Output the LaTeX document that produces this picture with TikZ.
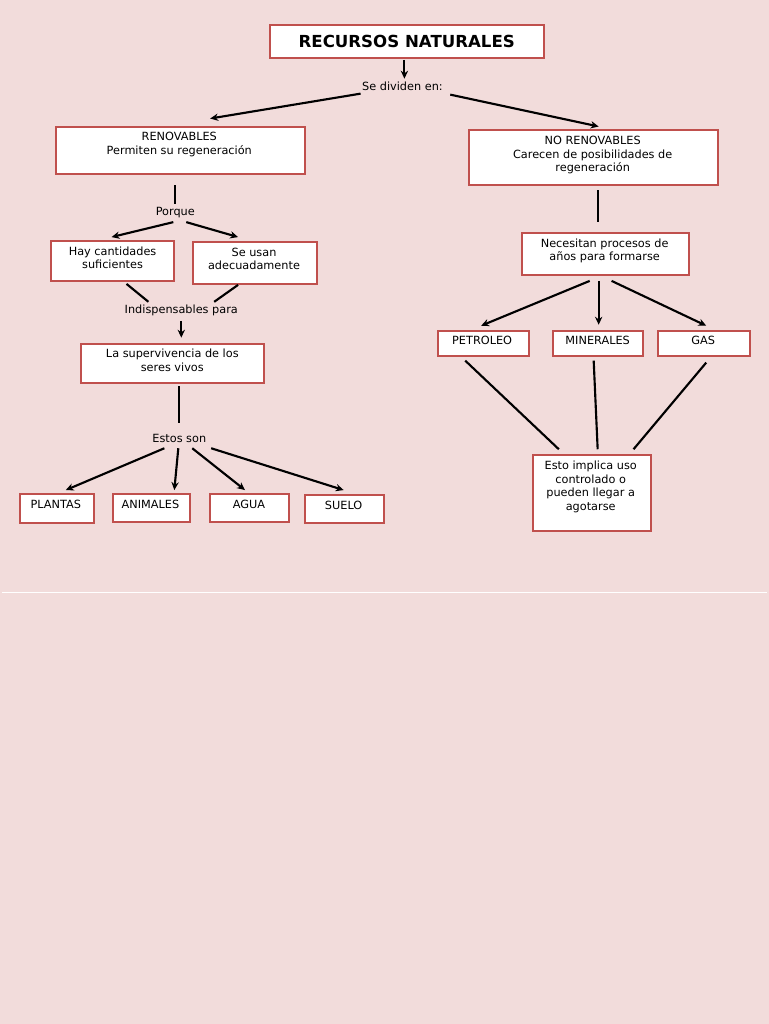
\documentclass[tikz,border=0pt]{standalone}
\usepackage{fontspec}
\setmainfont{DejaVu Sans}
\usetikzlibrary{arrows.meta}
\definecolor{bg}{HTML}{F2DCDB}
\definecolor{bord}{HTML}{C0504D}
\begin{document}
\begin{tikzpicture}[x=0.75pt,y=-0.75pt,
  box/.style={draw=bord,line width=1.5pt,fill=white,inner sep=0pt,font=\fontsize{8.5}{10}\selectfont,align=center,anchor=north west},
  lbl/.style={font=\fontsize{8.5}{10.3}\selectfont,inner sep=1pt},
  ar/.style={line width=1.6pt,-{Stealth[length=6pt,width=5.5pt]}},
  ln/.style={line width=1.6pt}]
\fill[bg] (-2,-2) rectangle (770,1026);
\draw[white,line width=0.8pt] (0,593) -- (768,593);
\useasboundingbox (0,0) rectangle (768,1024);
% boxes
\node[box,minimum width=206pt,minimum height=24.75pt,font=\bfseries\fontsize{12.5}{14}\selectfont] (title) at (268,22) {RECURSOS NATURALES};
\node[box,minimum width=187.5pt,minimum height=36pt] (ren) at (53,124) {};
\node[lbl,align=center,anchor=north] at (178,129) {RENOVABLES\\Permiten su regeneración};
\node[box,minimum width=187.5pt,minimum height=41.25pt] (noren) at (468,128) {};
\node[lbl,align=center,anchor=north] at (593,133) {NO RENOVABLES\\Carecen de posibilidades de\\regeneración};
\node[box,minimum width=93pt,minimum height=30pt] (hay) at (48,239) {};
\node[lbl,align=center,anchor=north] at (111,244) {Hay cantidades\\suficientes};
\node[box,minimum width=93pt,minimum height=31.5pt] (usan) at (191,240) {};
\node[lbl,align=center,anchor=north] at (253,245) {Se usan\\adecuadamente};
\node[box,minimum width=138pt,minimum height=29.25pt] (sup) at (78,342) {};
\node[lbl,align=center,anchor=north] at (171,347) {La supervivencia de los\\seres vivos};
\node[box,minimum width=56pt,minimum height=21.75pt] (plantas) at (17,493) {};
\node[lbl,anchor=north] at (54,498) {PLANTAS};
\node[box,minimum width=58.5pt,minimum height=21pt] (anim) at (110,493) {};
\node[lbl,anchor=north] at (149,498) {ANIMALES};
\node[box,minimum width=59.25pt,minimum height=21pt] (agua) at (208,493) {};
\node[lbl,anchor=north] at (248,498) {AGUA};
\node[box,minimum width=59.25pt,minimum height=21pt] (suelo) at (303,494) {};
\node[lbl,anchor=north] at (343,499) {SUELO};
\node[box,minimum width=126pt,minimum height=31.5pt] (nec) at (521,231) {};
\node[lbl,align=center,anchor=north] at (605,236) {Necesitan procesos de\\años para formarse};
\node[box,minimum width=68.25pt,minimum height=18.75pt] (pet) at (437,329) {};
\node[lbl,anchor=north] at (482,334) {PETROLEO};
\node[box,minimum width=68.25pt,minimum height=18.75pt] (min) at (552,329) {};
\node[lbl,anchor=north] at (598,334) {MINERALES};
\node[box,minimum width=69pt,minimum height=18.75pt] (gas) at (658,329) {};
\node[lbl,anchor=north] at (704,334) {GAS};
\node[box,minimum width=89.25pt,minimum height=57pt] (esto) at (532,454) {};
\node[lbl,align=center,anchor=north] at (591,459) {Esto implica uso\\controlado o\\pueden llegar a\\agotarse};
% labels
\node[lbl] (div) at (402,85) {Se dividen en:};
\node[lbl] (porque) at (174,211) {Porque};
\node[lbl] (indis) at (180,310) {Indispensables para};
\node[lbl] (estos) at (178,438) {Estos son};
% coordinates
\foreach \n/\x/\y in {a1/404/58,a2/404/77,b1/360/92,b2/209/117,c1/450/93,c2/599/125,
 d1/174/184,d2/174/203,e1/172/221,e2/110/236,f1/185/221,f2/237/236,
 g1/125/283,g2/147/301,h1/237/284,h2/213/301,i1/180/320,i2/180/337,j1/178/386,j2/178/423,
 k1/163/448,k2/64/490,l1/177/448,l2/173/490,m1/191/448,m2/244/490,n1/210/448,n2/343/490,
 o1/598/189,o2/598/221,p1/590/280,p2/481/325,q1/599/280,q2/599/324,r1/612/280,r2/707/325,
 s1/465/360,s2/559/449,t1/594/360,t2/598/449,u1/707/362,u2/634/449}
 {\coordinate (\n) at (\x,\y);}
\foreach \s/\t in {a1/a2,b1/b2,c1/c2,e1/e2,f1/f2,i1/i2,k1/k2,l1/l2,m1/m2,n1/n2,p1/p2,q1/q2,r1/r2}
 {\draw[ar] (\s) -- (\t);}
\foreach \s/\t in {d1/d2,g1/g2,h1/h2,j1/j2,o1/o2,s1/s2,t1/t2,u1/u2}
 {\draw[ln] (\s) -- (\t);}
\end{tikzpicture}
\end{document}
